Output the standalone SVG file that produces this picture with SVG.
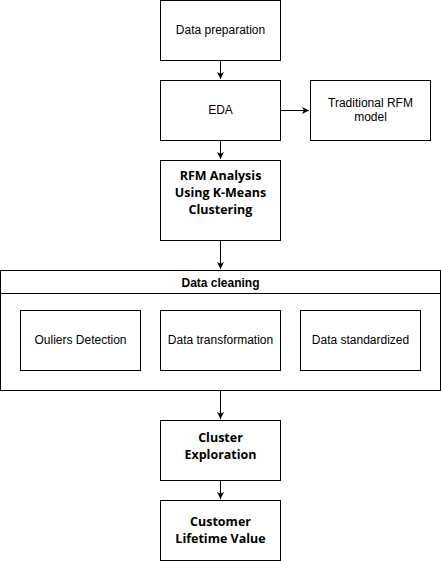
<svg xmlns="http://www.w3.org/2000/svg" width="441" height="561" viewBox="0 0 441 561">
<style>
.box{fill:#fff;stroke:#000;stroke-width:1}
.t{font-family:"Liberation Sans",Arial,sans-serif;font-size:12px;fill:#000;text-anchor:middle}
.b{font-family:"Open Sans","Noto Sans",sans-serif;font-size:12.5px;font-weight:bold;fill:#000;text-anchor:middle}
.h{font-family:"Liberation Sans",Arial,sans-serif;font-size:12px;font-weight:bold;fill:#000;text-anchor:middle}
.e{stroke:#000;stroke-width:1;fill:none;marker-end:url(#a)}
</style>
<defs>
<marker id="a" markerWidth="8" markerHeight="8" refX="7" refY="4" orient="auto" markerUnits="userSpaceOnUse">
<path d="M0,0.5 L7,4 L0,7.5 L1.8,4 Z" fill="#000"/>
</marker>
</defs>
<rect width="441" height="561" fill="#fff"/>
<g id="edges">
<path class="e" d="M220.5,60 V79"/>
<path class="e" d="M280,110.5 H309"/>
<path class="e" d="M220.5,140 V159"/>
<path class="e" d="M220.5,240 V269"/>
<path class="e" d="M220.5,390 V419"/>
<path class="e" d="M220.5,480 V499"/>
</g>
<g id="n1"><rect class="box" x="160.5" y="0.5" width="120" height="60"/><text class="t" x="220.5" y="34">Data preparation</text></g>
<g id="n2"><rect class="box" x="160.5" y="80.5" width="120" height="60"/><text class="t" x="220.5" y="114">EDA</text></g>
<g id="n3"><rect class="box" x="310.5" y="80.5" width="120" height="60"/><text class="t" x="370.5" y="107">Traditional RFM</text><text class="t" x="370.5" y="121">model</text></g>
<g id="n4"><rect class="box" x="160.5" y="160.5" width="120" height="80"/><text class="b" x="220.5" y="180">RFM Analysis</text><text class="b" x="220.5" y="197">Using K-Means</text><text class="b" x="220.5" y="214">Clustering</text></g>
<g id="c1"><rect class="box" x="0.5" y="270.5" width="440" height="120"/><line x1="0.5" y1="293.5" x2="440.5" y2="293.5" stroke="#000"/><text class="h" x="220.5" y="287">Data cleaning</text></g>
<g id="n5"><rect class="box" x="20.5" y="310.5" width="120" height="60"/><text class="t" x="80.5" y="344">Ouliers Detection</text></g>
<g id="n6"><rect class="box" x="160.5" y="310.5" width="120" height="60"/><text class="t" x="220.5" y="344">Data transformation</text></g>
<g id="n7"><rect class="box" x="300.5" y="310.5" width="120" height="60"/><text class="t" x="360.5" y="344">Data standardized</text></g>
<g id="n8"><rect class="box" x="160.5" y="420.5" width="120" height="60"/><text class="b" x="220.5" y="442">Cluster</text><text class="b" x="220.5" y="459">Exploration</text></g>
<g id="n9"><rect class="box" x="160.5" y="500.5" width="120" height="60"/><text class="b" x="220.5" y="526">Customer</text><text class="b" x="220.5" y="543">Lifetime Value</text></g>
</svg>
